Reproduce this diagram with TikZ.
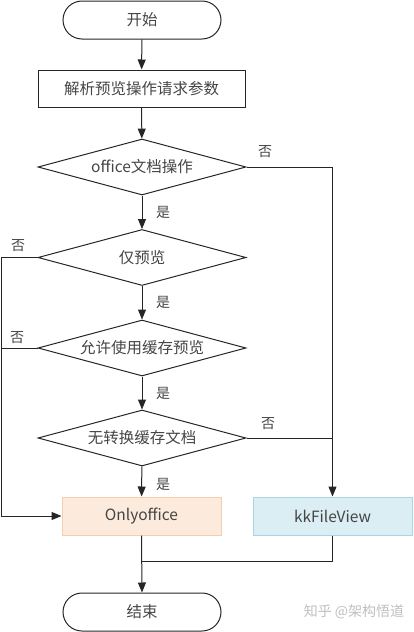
\documentclass[tikz,border=0pt]{standalone}
\usepackage{fontspec}
\setmainfont{Noto Sans CJK SC}
\usetikzlibrary{shapes.geometric,arrows.meta}
\definecolor{linec}{HTML}{262626}
\definecolor{txtc}{HTML}{454545}
\definecolor{ofill}{HTML}{FCEADC}
\definecolor{odraw}{HTML}{F8CDAA}
\definecolor{kfill}{HTML}{DAEEF3}
\definecolor{kdraw}{HTML}{A8D6E2}
\begin{document}
\begin{tikzpicture}[x=1pt,y=-1pt,
  every node/.style={text=txtc,font=\fontsize{15.5}{17}\selectfont},
  term/.style={draw=linec,line width=1pt,rounded corners=19pt,minimum width=158pt,minimum height=38pt,inner sep=0pt},
  procbox/.style={draw=linec,line width=1pt,minimum width=207pt,minimum height=37pt,inner sep=0pt},
  dec/.style={draw=linec,line width=1pt,diamond,aspect=3.7,minimum width=208pt,minimum height=56pt,inner sep=0pt},
  outbox/.style={line width=1pt,minimum width=159pt,minimum height=38pt,inner sep=0pt},
  conn/.style={draw=linec,line width=1pt},
  arr/.style={conn,-{Triangle[width=8pt,length=10pt]}},
  lbl/.style={font=\fontsize{14}{16}\selectfont,inner sep=0pt}
]
\useasboundingbox (0,0) rectangle (413,632);
\node[term] (start) at (142,20) {开始};
\node[procbox] (parse) at (141.5,88.5) {解析预览操作请求参数};
\node[dec] (d1) at (142,167) {office文档操作};
\node[dec] (d2) at (142,257.5) {仅预览};
\node[dec] (d3) at (142,348) {允许使用缓存预览};
\node[dec] (d4) at (142,438) {无转换缓存文档};
\node[outbox,fill=ofill,draw=odraw] (only) at (141.5,516) {Onlyoffice};
\node[outbox,fill=kfill,draw=kdraw] (kk) at (332.5,516) {kkFileView};
\node[term] (end) at (142,612) {结束};
\coordinate (L) at (1,0);
\coordinate (m) at (142,561);

\draw[arr] (start) -- (parse);
\draw[arr] (parse) -- (d1);
\draw[arr] (d1) -- (d2);
\draw[arr] (d2) -- (d3);
\draw[arr] (d3) -- (d4);
\draw[arr] (d4) -- (only);
\draw[arr] (d1.east) -| (kk.north);
\draw[conn] (d4.east) -- (d4.east -| kk.north);
\draw[arr] (d2.west) -- (d2.west -| L) |- (only.west);
\draw[conn] (d3.west) -- (d3.west -| L);
\draw[arr] (only.south) -- (end.north);
\draw[conn] (kk.south) |- (m);

\node[lbl] (n1) at (265,152) {否};
\node[lbl] (y1) at (163,212) {是};
\node[lbl] (n2) at (18,246) {否};
\node[lbl] (y2) at (163,302) {是};
\node[lbl] (n3) at (17,338) {否};
\node[lbl] (y3) at (163,393) {是};
\node[lbl] (n4) at (268,424) {否};
\node[lbl] (y4) at (163,484) {是};
\node[lbl,text=black!25] (wm) at (354,612) {知乎 @架构悟道};
\end{tikzpicture}
\end{document}
